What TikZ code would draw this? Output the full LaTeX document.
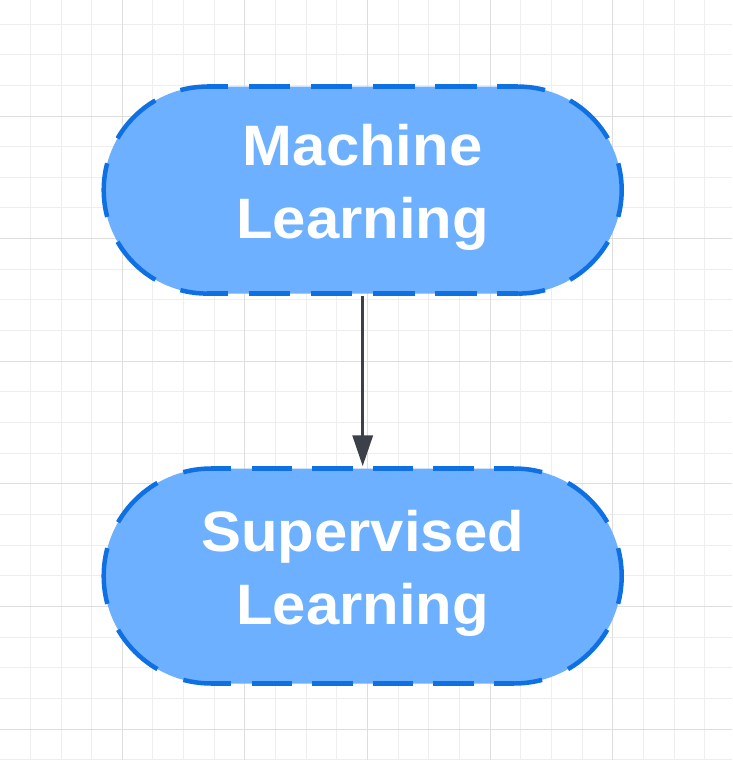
\documentclass[tikz,border=0pt]{standalone}
\usepackage{fontspec}
\setmainfont{Liberation Sans}
\newfontfamily\lblfont{Liberation Sans Bold}[FakeStretch=1.05]
\usetikzlibrary{arrows.meta}
\definecolor{fillblue}{HTML}{6CB0FF}
\definecolor{strokeblue}{HTML}{0F70E3}
\definecolor{arrowgrey}{HTML}{3B4049}
\definecolor{gridminor}{HTML}{EEEEEE}
\definecolor{gridmajor}{HTML}{DEDEDE}
\tikzset{
  stadiumbox/.style={rectangle, minimum width=518pt, minimum height=207pt,
    inner sep=0pt, outer sep=2.25pt,
    text=white, font=\lblfont\fontsize{57}{73}\selectfont, align=center},
  stborder/.style={draw=strokeblue, line width=4.5pt},
  link/.style={draw=arrowgrey, line width=3.5pt, -{Triangle[length=31pt,width=20pt]}},
  gminor/.style={draw=gridminor, line width=1pt},
  gmajor/.style={draw=gridmajor, line width=1pt}
}
% #1 cx, #2 cy, #3 radius, #4 half straight length
\newcommand\stadiumshape[4]{%
  \pgfmathsetmacro\stSp{2*#4/5}%
  \pgfmathsetmacro\stSon{2*\stSp/3}%
  \pgfmathsetmacro\stSoff{\stSp/3}%
  \pgfmathsetmacro\stAp{pi*#3/4}%
  \pgfmathsetmacro\stAon{2*\stAp/3}%
  \pgfmathsetmacro\stAoff{\stAp/3}%
  \fill[fillblue] ({#1-#4},{#2-#3}) -- ({#1+#4},{#2-#3})
     arc[start angle=-90, end angle=90, radius=#3]
     -- ({#1-#4},{#2+#3})
     arc[start angle=90, end angle=270, radius=#3] -- cycle;
  \draw[stborder, dash pattern=on \stSon pt off \stSoff pt, dash phase=\stSoff pt]
     ({#1+#4},{#2-#3}) -- ({#1-#4},{#2-#3});
  \draw[stborder, dash pattern=on \stSon pt off \stSoff pt, dash phase=\stSoff pt]
     ({#1-#4},{#2+#3}) -- ({#1+#4},{#2+#3});
  \draw[stborder, dash pattern=on \stAon pt off \stAoff pt, dash phase=\stAoff pt]
     ({#1+#4},{#2-#3}) arc[start angle=-90, end angle=90, radius=#3];
  \draw[stborder, dash pattern=on \stAon pt off \stAoff pt, dash phase=\stAoff pt]
     ({#1-#4},{#2+#3}) arc[start angle=90, end angle=270, radius=#3];
}
\begin{document}
\begin{tikzpicture}[x=1pt,y=-1pt]
\useasboundingbox (0,0) rectangle (732,760);
\fill[white] (0,0) rectangle (732,760);
\foreach \k in {1,2,3,5,6,7,9,10,11,13,14,15,17,18,19,21,22,23}{
  \draw[gminor] ({-0.3+\k*30.65},0) -- ({-0.3+\k*30.65},760);
}
\foreach \k in {0,1,2,4,5,6,8,9,10,12,13,14,16,17,18,20,21,22,24}{
  \draw[gminor] (0,{24.05+\k*30.65}) -- (732,{24.05+\k*30.65});
}
\foreach \k in {4,8,12,16,20}{
  \draw[gmajor] ({-0.3+\k*30.65},0) -- ({-0.3+\k*30.65},760);
}
\foreach \k in {3,7,11,15,19,23}{
  \draw[gmajor] (0,{24.05+\k*30.65}) -- (732,{24.05+\k*30.65});
}
\stadiumshape{362.7}{190.1}{103.5}{155.5}
\stadiumshape{362.7}{576}{107.5}{151.5}
\node[stadiumbox] (ml) at (362.7,190.1) {Machine\\Learning\rule[-18pt]{0pt}{18pt}};
\node[stadiumbox, minimum height=215pt] (sl) at (362.7,576) {Supervised\\Learning\rule[-18pt]{0pt}{18pt}};
\draw[link] (ml.south) -- (sl.north);
\end{tikzpicture}
\end{document}
